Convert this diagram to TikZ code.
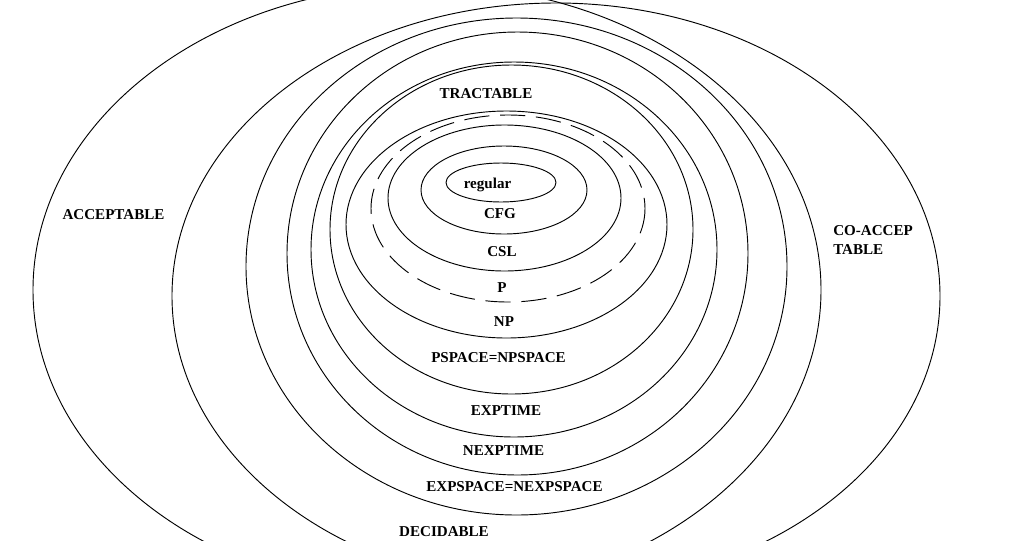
\documentclass[tikz,border=0pt]{standalone}
\usepackage{fontspec}
\setmainfont{Liberation Serif}

\begin{document}
\begin{tikzpicture}[x=0.75pt,y=0.75pt,yscale=-1,xscale=1,
    ring/.style={line width=0.7pt},
    dashring/.style={line width=0.7pt, dash pattern=on 19pt off 8pt},
    classlabel/.style={inner sep=0pt, font=\fontsize{11.3}{14.25}\selectfont\bfseries}]
            %set diagram to 1028 x 540
            \clip (0,0) rectangle (1028,540);
            \fill [white] (0,0) rectangle (1028,540);

            %Shape: Ellipse [acceptable]
            \draw [ring] (427,290) ellipse [x radius=394, y radius=305];
            %Shape: Ellipse [co-acceptable]
            \draw [ring] (556,296) ellipse [x radius=384, y radius=293];
            %Shape: Ellipse [expspace]
            \draw [ring] (516.5,266.5) ellipse [x radius=270.5, y radius=248.5];
            %Shape: Ellipse [nexptime]
            \draw [ring] (517.5,253.5) ellipse [x radius=230.5, y radius=221.5];
            %Shape: Ellipse [exptime]
            \draw [ring] (514,249.5) ellipse [x radius=203, y radius=187.5];
            %Shape: Ellipse [pspace]
            \draw [ring] (511.5,229.5) ellipse [x radius=181.5, y radius=164.5];
            %Shape: Ellipse [np]
            \draw [ring] (506.5,224.5) ellipse [x radius=160.5, y radius=113.5];
            %Shape: Ellipse [p, dashed]
            \draw [dashring] (508,208.5) ellipse [x radius=137, y radius=93.5];
            %Shape: Ellipse [csl]
            \draw [ring] (504.5,198) ellipse [x radius=116.5, y radius=73];
            %Shape: Ellipse [cfg]
            \draw [ring] (504,190) ellipse [x radius=83, y radius=44];
            %Shape: Ellipse [regular]
            \draw [ring] (501,182.5) ellipse [x radius=55, y radius=19.5];

            % Text Node
            \node (tractable) [classlabel] at (486,94) {TRACTABLE};
            % Text Node
            \node (regular) [classlabel] at (487.5,185) {regular};
            % Text Node
            \node (cfg) [classlabel] at (500,214) {CFG};
            % Text Node
            \node (csl) [classlabel] at (502,252) {CSL};
            % Text Node
            \node (p) [classlabel] at (502,287.5) {P};
            % Text Node
            \node (np) [classlabel] at (504,321.5) {NP};
            % Text Node
            \node (pspace) [classlabel] at (498.5,357.5) {PSPACE=NPSPACE};
            % Text Node
            \node (exptime) [classlabel] at (506,411) {EXPTIME};
            % Text Node
            \node (nexptime) [classlabel] at (503.5,451) {NEXPTIME};
            % Text Node
            \node (expspace) [classlabel] at (514.5,486.5) {EXPSPACE=NEXPSPACE};
            % Text Node
            \node (decidable) [classlabel] at (444,531.5) {DECIDABLE};
            % Text Node
            \node (acceptable) [classlabel] at (113.5,214.5) {ACCEPTABLE};
            % Text Node
            \node (coacceptable) [classlabel, anchor=north west, align=left] at (833,225) {CO-ACCEP\\TABLE};

\end{tikzpicture}
\end{document}
